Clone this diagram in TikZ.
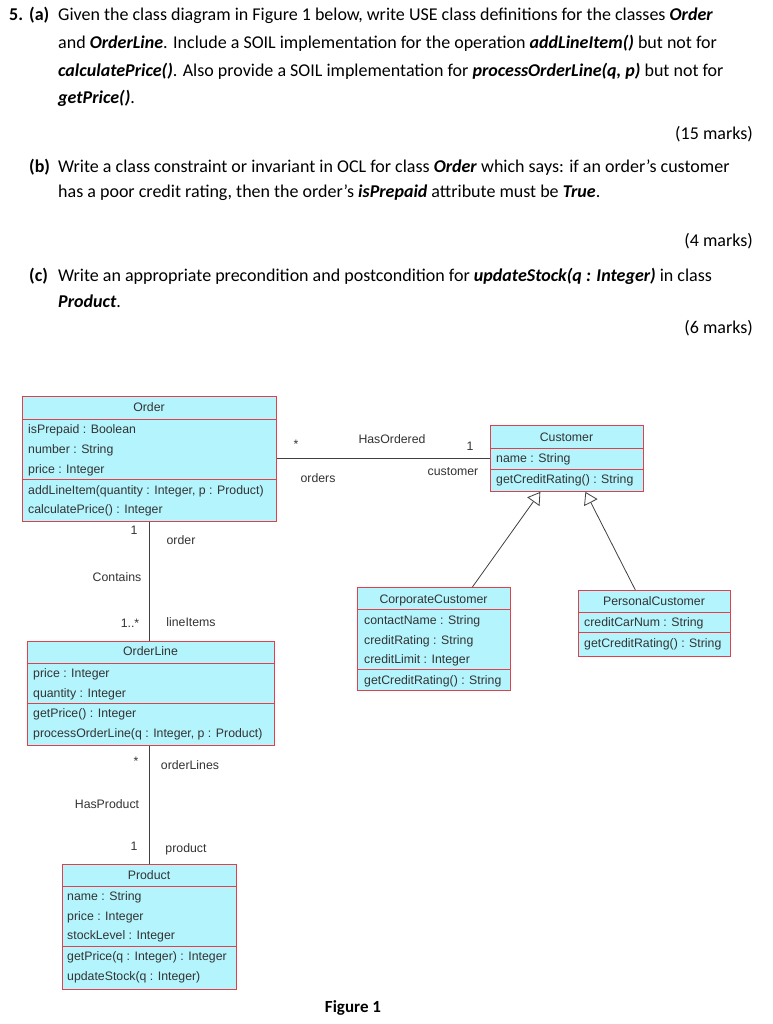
\documentclass[tikz,border=0pt]{standalone}
\usepackage{fontspec}
\setmainfont{Carlito}
\newfontfamily\carl{Carlito}
\newfontfamily\arl{Liberation Sans}
\usetikzlibrary{arrows.meta,calc}
\definecolor{boxfill}{HTML}{B4F5FD}
\definecolor{boxred}{HTML}{E0404A}
\definecolor{linegray}{HTML}{404040}
\definecolor{txtgray}{HTML}{333333}
\newcommand\bix[1]{\textbf{\textit{#1}}}
\tikzset{
  cls/.style={draw=boxred, fill=boxfill, line width=0.9pt, inner sep=0pt, anchor=north west},
  sepline/.style={draw=boxred, line width=0.9pt},
  dt/.style={font=\arl\fontsize{12.3}{14}\selectfont, text=txtgray, inner sep=0pt, anchor=base west},
  dtc/.style={dt, anchor=base},
  assoc/.style={draw=linegray, line width=1pt},
  gen/.style={draw=linegray, line width=0.8pt, -{Triangle[open, length=12pt, width=15pt]}},
  qt/.style={font=\carl\fontsize{18}{21}\selectfont, text=black, inner sep=0pt, anchor=base west},
  qr/.style={qt, anchor=base east}
}
\begin{document}
\begin{tikzpicture}[x=1pt,y=-1pt]
\useasboundingbox[fill=white] (0,0) rectangle (772,1024);

% ---------- question text ----------
\node[qt] (n5) at (9,21) {\textbf{5.}};
\node[qt] (na) at (29,21) {\textbf{(a)}};
\node[qt] (a1) at (58,21) {Given the class diagram in Figure 1 below, write USE class definitions for the classes \bix{Order}};
\node[qt] (a2) at (58,49) {and \bix{OrderLine}. Include a SOIL implementation for the operation \bix{addLineItem()} but not for};
\node[qt] (a3) at (58,77) {\bix{calculatePrice()}. Also provide a SOIL implementation for \bix{processOrderLine(q, p)} but not for};
\node[qt] (a4) at (58,104) {\bix{getPrice()}.};
\node[qr] (m15) at (753,140) {(15 marks)};
\node[qt] (nb) at (29,173) {\textbf{(b)}};
\node[qt] (b1) at (58,173) {Write a class constraint or invariant in OCL for class \bix{Order} which says: if an order’s customer};
\node[qt] (b2) at (58,198) {has a poor credit rating, then the order’s \bix{isPrepaid} attribute must be \bix{True}.};
\node[qr] (m4) at (753,246) {(4 marks)};
\node[qt] (nc) at (29,281) {\textbf{(c)}};
\node[qt] (c1) at (58,281) {Write an appropriate precondition and postcondition for \bix{updateStock(q : Integer)} in class};
\node[qt] (c2) at (58,307) {\bix{Product}.};
\node[qr] (m6) at (753,333) {(6 marks)};

% ---------- class boxes ----------
\node[cls, minimum width=254pt, minimum height=125pt] (order) at (22,396) {};
\draw[sepline] (22,419) -- (276,419);
\draw[sepline] (22,479) -- (276,479);
\node[dtc] (orderT) at (149,411) {Order};
\node[dt] (o1) at (28,433) {isPrepaid : Boolean};
\node[dt] (o2) at (28,453) {number : String};
\node[dt] (o3) at (28,473) {price : Integer};
\node[dt] (o4) at (28,494) {addLineItem(quantity : Integer, p : Product)};
\node[dt] (o5) at (28,513) {calculatePrice() : Integer};

\node[cls, minimum width=153pt, minimum height=66pt] (cust) at (490,425) {};
\draw[sepline] (490,448) -- (643,448);
\draw[sepline] (490,469) -- (643,469);
\node[dtc] (custT) at (566.5,441) {Customer};
\node[dt] (cu1) at (496,462) {name : String};
\node[dt] (cu2) at (496,483) {getCreditRating() : String};

\node[cls, minimum width=153pt, minimum height=103pt] (corp) at (357,587) {};
\draw[sepline] (357,609) -- (510,609);
\draw[sepline] (357,669) -- (510,669);
\node[dtc] (corpT) at (433.5,603) {CorporateCustomer};
\node[dt] (co1) at (364,624) {contactName : String};
\node[dt] (co2) at (364,644) {creditRating : String};
\node[dt] (co3) at (364,663) {creditLimit : Integer};
\node[dt] (co4) at (364,684) {getCreditRating() : String};

\node[cls, minimum width=152pt, minimum height=66pt] (pers) at (578,590) {};
\draw[sepline] (578,612) -- (730,612);
\draw[sepline] (578,632) -- (730,632);
\node[dtc] (persT) at (654,605) {PersonalCustomer};
\node[dt] (pe1) at (584,626) {creditCarNum : String};
\node[dt] (pe2) at (584,647) {getCreditRating() : String};

\node[cls, minimum width=247pt, minimum height=104pt] (ol) at (27,641) {};
\draw[sepline] (27,663) -- (274,663);
\draw[sepline] (27,703) -- (274,703);
\node[dtc] (olT) at (150.5,655) {OrderLine};
\node[dt] (ol1) at (33,677) {price : Integer};
\node[dt] (ol2) at (33,697) {quantity : Integer};
\node[dt] (ol3) at (33,717) {getPrice() : Integer};
\node[dt] (ol4) at (33,737) {processOrderLine(q : Integer, p : Product)};

\node[cls, minimum width=174pt, minimum height=125pt] (prod) at (62,864) {};
\draw[sepline] (62,886) -- (236,886);
\draw[sepline] (62,946) -- (236,946);
\node[dtc] (prodT) at (149,879) {Product};
\node[dt] (p1) at (67,900) {name : String};
\node[dt] (p2) at (67,920) {price : Integer};
\node[dt] (p3) at (67,939) {stockLevel : Integer};
\node[dt] (p4) at (67,960) {getPrice(q : Integer) : Integer};
\node[dt] (p5) at (67,980) {updateStock(q : Integer)};

% ---------- connectors ----------
\draw[assoc] (order.east) -- (cust.west |- order.east);
\draw[assoc] (order.south) -- (ol.north -| order.south);
\draw[assoc] (ol.south -| order.south) -- (prod.north);
\draw[gen] ($(corp.north west)!0.75!(corp.north east)$) -- ($(cust.south west)!0.327!(cust.south east)$);
\draw[gen] ($(pers.north west)!0.375!(pers.north east)$) -- ($(cust.south west)!0.62!(cust.south east)$);

% ---------- association labels ----------
\node[dtc] (l1) at (296,448) {*};
\node[dtc] (l2) at (392,443) {HasOrdered};
\node[dtc] (l3) at (470,450) {1};
\node[dtc] (l4) at (318,482) {orders};
\node[dtc] (l5) at (453,475) {customer};
\node[dtc] (l6) at (134,534) {1};
\node[dtc] (l7) at (181,544) {order};
\node[dtc] (l8) at (117,581) {Contains};
\node[dtc] (l9) at (130,627) {1..*};
\node[dtc] (l10) at (191,626) {lineItems};
\node[dtc] (l11) at (136,765) {*};
\node[dtc] (l12) at (190,769) {orderLines};
\node[dtc] (l13) at (107,808) {HasProduct};
\node[dtc] (l14) at (134,850) {1};
\node[dtc] (l15) at (186,852) {product};

\node[qt, anchor=base, font=\carl\fontsize{17}{20}\selectfont] (fig) at (353,1012) {\textbf{Figure 1}};
\end{tikzpicture}
\end{document}
